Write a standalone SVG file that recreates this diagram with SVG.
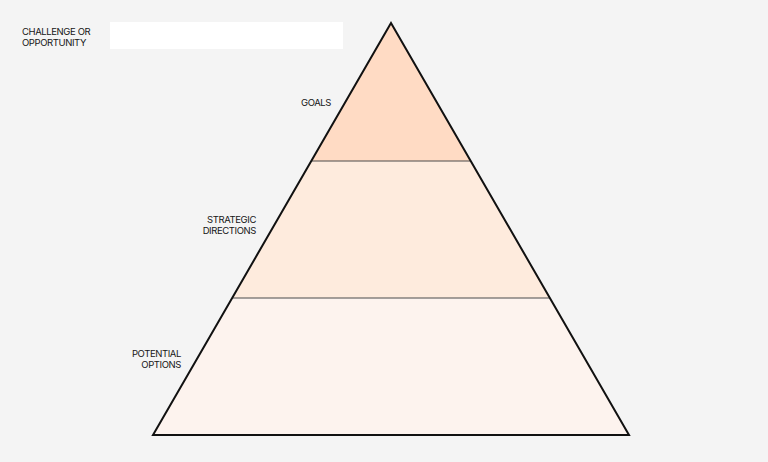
<svg xmlns="http://www.w3.org/2000/svg" width="768" height="462" viewBox="0 0 768 462">
<style>
.lbl{font-family:Inter,"Liberation Sans",sans-serif;font-size:9.5px;font-weight:400;fill:#161616;letter-spacing:-0.4px}
.r{text-anchor:end}
.div{stroke:#4a4a4a;stroke-width:1;fill:none}
</style>
<rect x="0" y="0" width="768" height="462" fill="#f4f4f4"/>
<g id="challenge">
<text class="lbl" x="22" y="35">CHALLENGE OR</text>
<text class="lbl" x="22" y="46">OPPORTUNITY</text>
<rect x="110" y="22" width="233" height="27" fill="#ffffff"/>
</g>
<g id="pyramid">
<g id="goals">
<polygon points="391,23 311.3,161 470.7,161" fill="#ffdbc4"/>
<text class="lbl r" x="331" y="106">GOALS</text>
</g>
<g id="strategic">
<polygon points="311.3,161 470.7,161 549.9,298 232.1,298" fill="#feebdd"/>
<text class="lbl r" x="256" y="223">STRATEGIC</text>
<text class="lbl r" x="256" y="234">DIRECTIONS</text>
</g>
<g id="options">
<polygon points="232.1,298 549.9,298 629,435 153,435" fill="#fdf3ee"/>
<text class="lbl r" x="181" y="357">POTENTIAL</text>
<text class="lbl r" x="181" y="368">OPTIONS</text>
</g>
<g id="connectors">
<line class="div" x1="311.3" y1="161" x2="470.7" y2="161"/>
<line class="div" x1="232.1" y1="298" x2="549.9" y2="298"/>
</g>
<polygon points="391,23 629,435 153,435" fill="none" stroke="#111" stroke-width="2" stroke-linejoin="miter"/>
</g>
</svg>
